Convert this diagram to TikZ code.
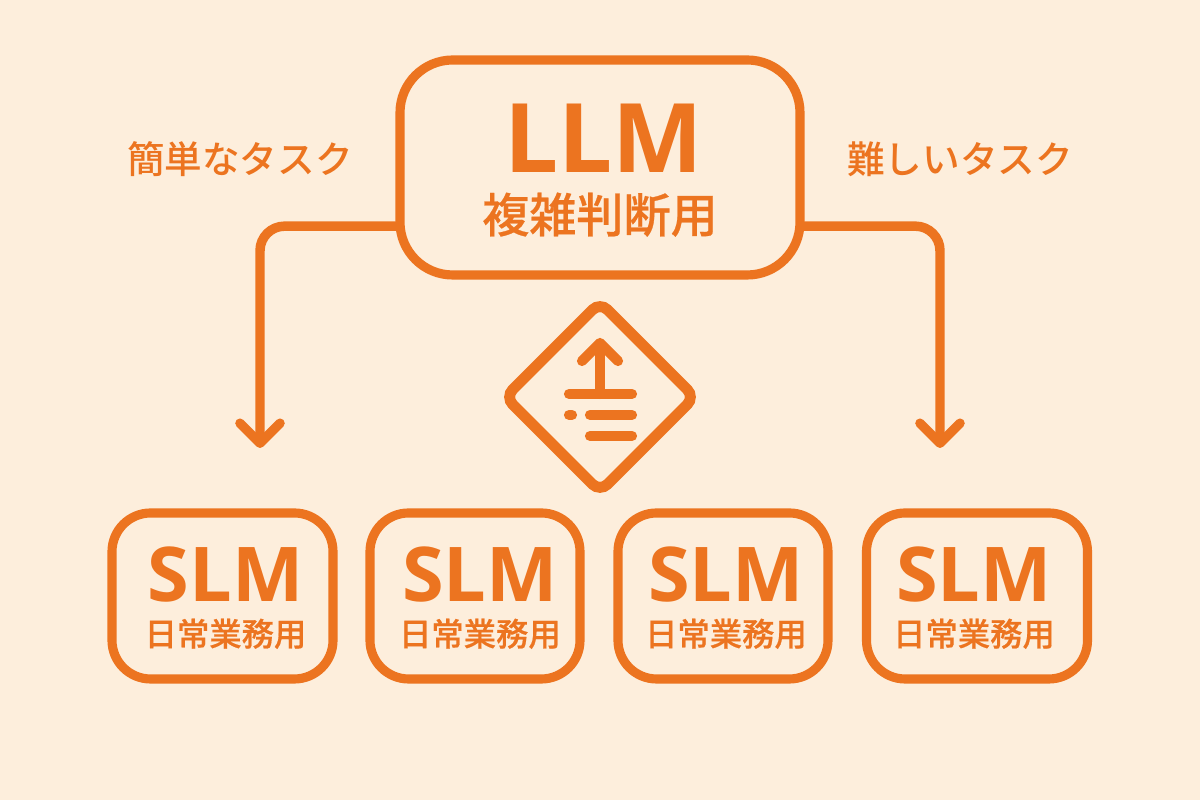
\documentclass[tikz,border=0pt]{standalone}
\usepackage{fontspec}
\setmainfont{Open Sans}
\newfontfamily\cjk{Noto Sans CJK JP Medium}
\newfontfamily\cjkheavy{Noto Sans CJK JP Medium}[FakeBold=0.5]
\usetikzlibrary{arrows.meta,shapes.geometric}
\definecolor{paper}{HTML}{FDEEDC}
\definecolor{ink}{HTML}{EC7420}
\newcommand{\slmtext}[1]{\hspace*{#1}\rule{0pt}{16.6pt}SLM\\[-11.3pt]\hspace*{#1}{\cjkheavy\mdseries\fontsize{9.2}{11}\selectfont 日常業務用}}

\begin{document}
\begin{tikzpicture}[-,auto,node distance=2.5cm,text=ink,
                    big node/.style={rectangle,draw=ink,line width=2.6pt,rounded corners=15pt,align=center,
                      minimum width=4cm,minimum height=2.15cm,inner sep=0pt,font=\bfseries\fontsize{27.3}{30}\selectfont},
                    small node/.style={rectangle,draw=ink,line width=2.6pt,rounded corners=11pt,align=center,
                      minimum width=2.21cm,minimum height=1.66cm,inner sep=0pt,font=\bfseries\fontsize{21.5}{24}\selectfont},
                    task label/.style={font=\cjk\fontsize{10.7}{12}\selectfont},
                    flow/.style={draw=ink,line width=2.7pt,rounded corners=7pt,line cap=round,
                      -{Straight Barb[length=5.7pt,width=11.4pt,round]}},
                    mark line/.style={draw=ink,line width=2.9pt,line cap=round,line join=round}]

  \fill[paper] (0,0) rectangle (12,8);
  \useasboundingbox (0,0) rectangle (12,8);

  \node[big node] (llm) at (6,6.325) {\hspace*{2pt}\rule{0pt}{21.2pt}LLM\\[-13pt]{\cjkheavy\mdseries\fontsize{13.4}{16}\selectfont 複雑判断用}};
  \node[small node] (slm1) at (2.225,2.04) {\slmtext{1.7pt}};
  \node[small node,minimum width=2.1cm] (slm2) [right of=slm1,node distance=2.525cm] {\slmtext{2.8pt}};
  \node[small node,minimum width=2.1cm] (slm3) [right of=slm2,node distance=2.48cm] {\slmtext{1.7pt}};
  \node[small node] (slm4) [right of=slm3,node distance=2.54cm] {\slmtext{-1.7pt}};
  \node[task label] (easy) at (2.4,6.41) {簡単なタスク};
  \node[task label] (hard) at (9.6,6.41) {難しいタスク};
  \node[diamond,draw=ink,line width=3.1pt,rounded corners=3pt,aspect=1,inner sep=0pt,minimum width=1.94cm,minimum height=1.94cm] (sign) at (6,4.03) {};

  \coordinate (tipl) at (2.6,3.52);
  \coordinate (tipr) at (9.4,3.52);
  \draw[flow] (llm.196) -| (tipl);
  \draw[flow] (llm.-16) -| (tipr);

  % arrow and lines inside the sign
  \draw[mark line] (6,4.06) -- (6,4.5);
  \draw[mark line] (5.82,4.39) -- (6,4.57) -- (6.18,4.39);
  \draw[mark line] (5.69,4.06) -- (6.32,4.06);
  \draw[mark line] (5.69,3.85) -- (5.72,3.85);
  \draw[mark line] (5.9,3.85) -- (6.32,3.85);
  \draw[mark line] (5.9,3.64) -- (6.32,3.64);
\end{tikzpicture}
\end{document}
